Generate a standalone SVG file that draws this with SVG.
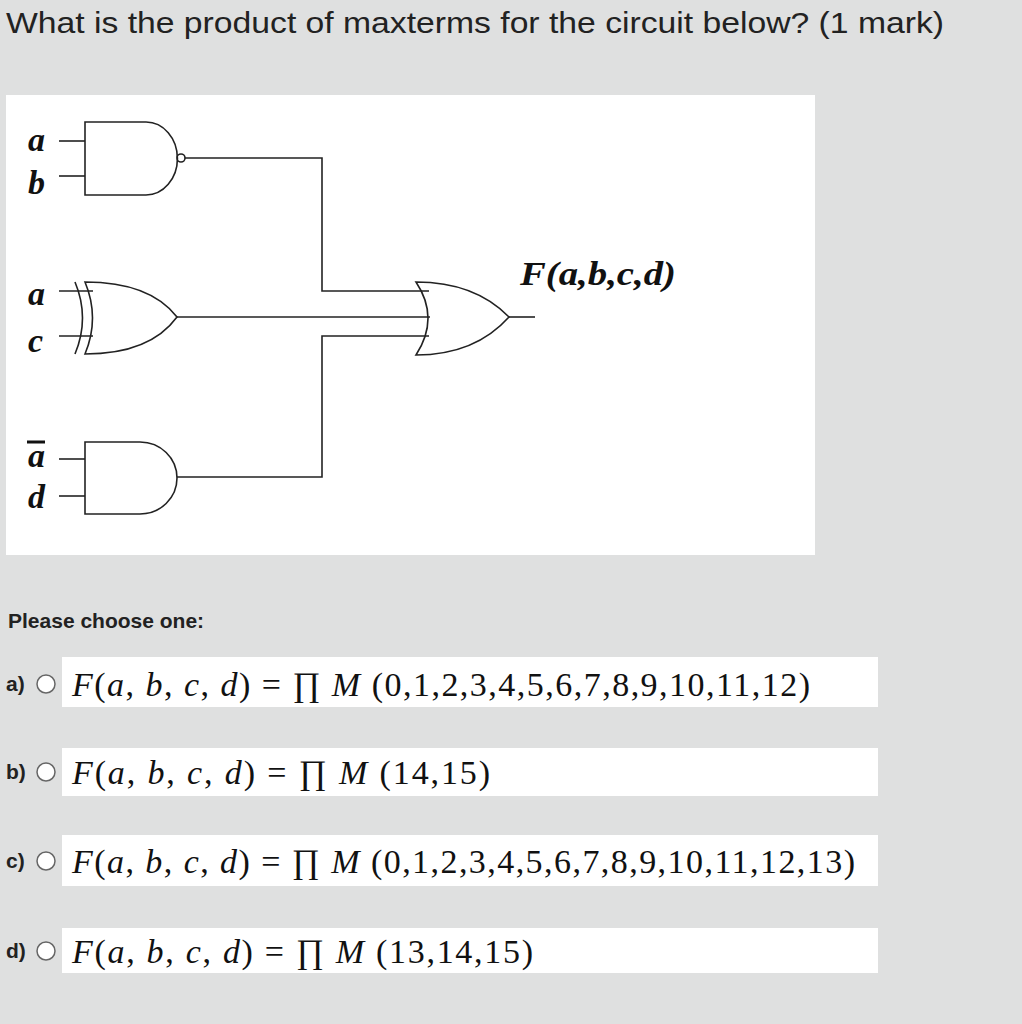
<svg xmlns="http://www.w3.org/2000/svg" width="1022" height="1024" viewBox="0 0 1022 1024">
<style>
.g{fill:none;stroke:#222;stroke-width:1.6}
.w{fill:none;stroke:#222;stroke-width:1.6}
.lbl{font-family:"Liberation Serif",serif;font-style:italic;font-weight:bold;font-size:34px;fill:#111}
.m{font-family:"Liberation Serif",serif;font-size:34px;fill:#111}
.i{font-style:italic}
.opt{font-family:"Liberation Sans",sans-serif;font-weight:bold;font-size:21px;fill:#222}
.box{fill:#fff}
.rad{fill:#fff;stroke:#666;stroke-width:1.5}
</style>
<rect width="1022" height="1024" fill="#dfe0e0"/>
<text x="6" y="33" font-family="Liberation Sans, sans-serif" font-size="30" fill="#222" textLength="938" lengthAdjust="spacingAndGlyphs">What is the product of maxterms for the circuit below? (1 mark)</text>
<rect x="6" y="95" width="809" height="460" fill="#fff"/>
<g id="nand">
<path class="g" d="M85,122 H146 A31,36 0 0 1 146,195 H85 Z"/>
<circle class="g" cx="181" cy="158" r="4" fill="#fff"/>
<line class="w" x1="59" y1="141" x2="85" y2="141"/><line class="w" x1="59" y1="176" x2="85" y2="176"/>
<text class="lbl" x="28" y="151">a</text><text class="lbl" x="28" y="194">b</text>
</g>
<g id="xor">
<path class="g" d="M85,282 Q100,318 85,354 Q150,354 177,317 Q150,282 85,282 Z"/>
<path class="g" d="M75,282 Q90,318 75,354"/>
<line class="w" x1="59" y1="291" x2="93" y2="291"/><line class="w" x1="59" y1="336" x2="93" y2="336"/>
<text class="lbl" x="28" y="305">a</text><text class="lbl" x="28" y="352">c</text>
</g>
<g id="and">
<path class="g" d="M85,442 H140 A37,36 0 0 1 140,514 H85 Z"/>
<line class="w" x1="59" y1="459" x2="85" y2="459"/><line class="w" x1="59" y1="496" x2="85" y2="496"/>
<text class="lbl" x="28" y="467">a</text><line x1="27" y1="442" x2="45" y2="442" stroke="#111" stroke-width="3"/>
<text class="lbl" x="28" y="508">d</text>
</g>
<g id="or">
<path class="g" d="M416,282 Q440,318 416,355 Q475,355 509,317 Q475,282 416,282 Z"/>
<line class="w" x1="509" y1="317" x2="535" y2="317"/>
<text class="lbl" x="520" y="285" font-size="33" textLength="156" lengthAdjust="spacingAndGlyphs">F(a,b,c,d)</text>
</g>
<g id="connectors">
<polyline class="w" points="185,158 322,158 322,291 429,291"/>
<line class="w" x1="177" y1="317" x2="430" y2="317"/>
<polyline class="w" points="177,477 322,477 322,336 429,336"/>
</g>
<text x="8" y="628" font-family="Liberation Sans, sans-serif" font-weight="bold" font-size="21" fill="#222">Please choose one:</text>
<g id="options">
<rect class="box" x="62" y="657" width="816" height="50"/>
<rect class="box" x="62" y="748" width="816" height="48"/>
<rect class="box" x="62" y="835" width="816" height="51"/>
<rect class="box" x="62" y="928" width="816" height="45"/>
<text class="opt" x="6" y="691">a)</text><circle class="rad" cx="46" cy="684" r="9"/>
<text class="opt" x="6" y="779">b)</text><circle class="rad" cx="46" cy="772" r="9"/>
<text class="opt" x="6" y="868">c)</text><circle class="rad" cx="46" cy="861" r="9"/>
<text class="opt" x="6" y="958">d)</text><circle class="rad" cx="46" cy="951" r="9"/>
<text class="m" x="72" y="696" textLength="738" lengthAdjust="spacing"><tspan class="i">F</tspan>(<tspan class="i">a</tspan>, <tspan class="i">b</tspan>, <tspan class="i">c</tspan>, <tspan class="i">d</tspan>) = ∏ <tspan class="i">M</tspan> (0,1,2,3,4,5,6,7,8,9,10,11,12)</text>
<text class="m" x="72" y="784" textLength="418" lengthAdjust="spacing"><tspan class="i">F</tspan>(<tspan class="i">a</tspan>, <tspan class="i">b</tspan>, <tspan class="i">c</tspan>, <tspan class="i">d</tspan>) = ∏ <tspan class="i">M</tspan> (14,15)</text>
<text class="m" x="72" y="873" textLength="783" lengthAdjust="spacing"><tspan class="i">F</tspan>(<tspan class="i">a</tspan>, <tspan class="i">b</tspan>, <tspan class="i">c</tspan>, <tspan class="i">d</tspan>) = ∏ <tspan class="i">M</tspan> (0,1,2,3,4,5,6,7,8,9,10,11,12,13)</text>
<text class="m" x="72" y="963" textLength="461" lengthAdjust="spacing"><tspan class="i">F</tspan>(<tspan class="i">a</tspan>, <tspan class="i">b</tspan>, <tspan class="i">c</tspan>, <tspan class="i">d</tspan>) = ∏ <tspan class="i">M</tspan> (13,14,15)</text>
</g>
</svg>
